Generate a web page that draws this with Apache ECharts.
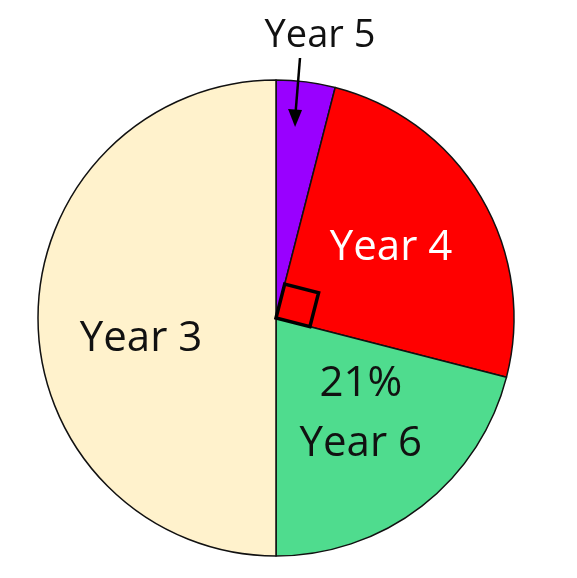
<!DOCTYPE html>
<html>
<head>
<meta charset="utf-8">
<script src="https://cdn.jsdelivr.net/npm/echarts@6/dist/echarts.min.js"></script>
<style>
  html, body { margin: 0; padding: 0; background: #fff; }
  #chart { width: 577px; height: 578px; }
</style>
</head>
<body>
<div id="chart"></div>
<script>
// slices, clockwise from 12 o'clock
const categories = ['Year 5', 'Year 4', 'Year 6', 'Year 3'];
const values = [4, 25, 21, 50];
const colors = ['#9900FF', '#FF0000', '#4FDC8E', '#FFF2CC'];

const cx = 276, cy = 318, R = 238;
const font = '"Open Sans", Lato, sans-serif';

// angle (deg, clockwise from top) where each slice starts
const total = values.reduce((a, b) => a + b, 0);
let acc = 0;
const starts = values.map(v => { const s = acc / total * 360; acc += v; return s; });
const pt = (deg, r) => {
  const a = deg * Math.PI / 180;
  return [cx + r * Math.sin(a), cy - r * Math.cos(a)];
};

// right-angle marker on Year 4
const a4 = starts[1];
const side = 35;
const sq = [[cx, cy], pt(a4, side), (function () {
  const p = pt(a4, side), q = pt(a4 + 90, side);
  return [p[0] + q[0] - cx, p[1] + q[1] - cy];
})(), pt(a4 + 90, side)];

// arrow to Year 5
const y5mid = starts[0] + values[0] / total * 180;
const tip = pt(y5mid - 1.5, 192);

const labelCfg = {
  'Year 5': { show: false },
  'Year 4': { show: true, color: '#fff', offset: [10, -8], formatter: '{b}' },
  'Year 6': { show: true, color: '#111', offset: [10, 0], formatter: '21%\n{b}', lineHeight: 60 },
  'Year 3': { show: true, color: '#111', offset: [-13, 21], formatter: '{b}' }
};

const chart = echarts.init(document.getElementById('chart'));
chart.setOption({
  animation: false,
  series: [{
    type: 'pie',
    center: [cx, cy],
    radius: R,
    startAngle: 90,
    clockwise: true,
    silent: true,
    label: { position: 'inside', fontFamily: font, fontSize: 42 },
    labelLine: { show: false },
    itemStyle: { borderColor: '#111', borderWidth: 1.5 },
    data: categories.map((c, i) => ({
      name: c,
      value: values[i],
      itemStyle: { color: colors[i] },
      label: labelCfg[c]
    }))
  }],
  graphic: [
    {
      type: 'polygon',
      shape: { points: sq },
      style: { fill: 'none', stroke: '#000', lineWidth: 3.5 },
      z: 100
    },
    {
      type: 'text',
      x: 320, y: 36,
      style: { text: 'Year 5', font: '38px ' + font, fill: '#111', align: 'center', verticalAlign: 'middle' },
      z: 100
    },
    {
      type: 'line',
      shape: { x1: 300, y1: 58, x2: tip[0], y2: tip[1] - 8 },
      style: { stroke: '#000', lineWidth: 2.5 },
      z: 100
    },
    {
      type: 'polygon',
      shape: { points: [[tip[0] - 7, tip[1] - 18], [tip[0] + 7, tip[1] - 17], tip] },
      style: { fill: '#000' },
      z: 100
    }
  ]
});
</script>
</body>
</html>
